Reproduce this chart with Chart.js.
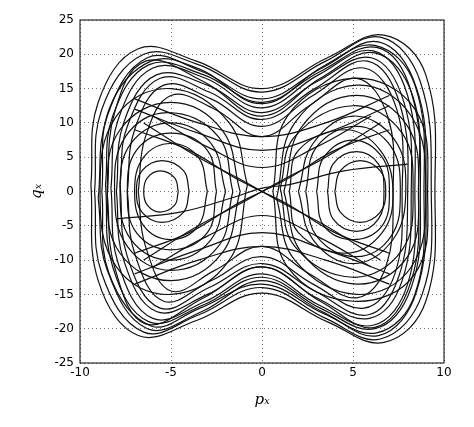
<!DOCTYPE html>
<html>
<head>
<meta charset="utf-8">
<script src="https://cdn.jsdelivr.net/npm/chart.js@4"></script>
<style>
  html, body { margin: 0; padding: 0; background: #fff; }
  #wrap { width: 474px; height: 427px; }
</style>
</head>
<body>
<div id="wrap"><canvas id="phase"></canvas></div>
<script>
// tick values
const xTicks = [-10, -5, 0, 5, 10];
const yTicks = [-25, -20, -15, -10, -5, 0, 5, 10, 15, 20, 25];

// big loops around both lobes, points [p, q]
const outerLoops = [
  [[-9.2,0],[-8.8,12],[-6.5,20],[-3.5,18.5],[0,14.5],[3.5,19],[6.5,22.5],[8.7,16],[9.3,0],[8.8,-15],[6.5,-21.5],[3.5,-18.5],[0,-14],[-3.5,-18],[-6.5,-20.5],[-8.8,-12]],
  [[-8.6,1],[-8.2,11],[-6.2,18.5],[-3.2,17],[0,13],[3.2,17.5],[6.3,21],[8.2,14.5],[8.7,-1],[8.2,-14],[6.2,-20],[3.2,-17],[0,-12.5],[-3.2,-16.5],[-6.2,-19],[-8.2,-11]],
  [[-8,0],[-7.6,10],[-5.8,17],[-3,15.5],[0,11.5],[3,16],[6,19.5],[7.8,13],[8.2,0],[7.7,-13],[5.9,-18.5],[3,-15.5],[0,-11],[-3,-15],[-5.8,-17.5],[-7.6,-10]],
  [[-9,-1],[-8.5,11],[-6.3,19.5],[-3.3,17.5],[0,13.5],[3.3,18],[6.4,21.8],[8.5,15],[9,1],[8.5,-14.5],[6.4,-21],[3.3,-17.5],[0,-13],[-3.3,-17.5],[-6.3,-20],[-8.5,-11.5]],
  [[-7.4,0],[-7,9],[-5.4,15.5],[-2.8,13.5],[0,9.5],[2.8,14],[5.6,18],[7.4,12],[7.7,0],[7.3,-12],[5.6,-17],[2.8,-13.5],[0,-9.5],[-2.8,-13],[-5.4,-16],[-7,-9]],
  [[-8.3,0.5],[-7.9,10.5],[-6,18],[-3.1,16.5],[0,12.2],[3.1,17],[6.1,20.5],[8,14],[8.4,0],[8,-13.5],[6.1,-19.5],[3.1,-16.5],[0,-12],[-3.1,-16],[-6,-18.5],[-7.9,-10.5]],
  [[-6.8,0],[-6.4,8],[-5,14],[-2.6,12],[0,8],[2.6,12.5],[5.2,16.5],[6.9,11],[7.2,0],[6.8,-11],[5.2,-15.5],[2.6,-12],[0,-8],[-2.6,-11.5],[-5,-14.5],[-6.4,-8]],
  [[-9.4,1],[-9,13],[-6.8,20.8],[-3.6,19],[0,15],[3.6,19.5],[6.7,22.8],[9,17],[9.5,0],[9,-16],[6.7,-22],[3.6,-19],[0,-14.8],[-3.6,-18.8],[-6.8,-21],[-9,-13]],
  [[-8.8,0],[-8.4,12],[-6.1,19],[-3.4,17.8],[0,12.8],[3.4,18.3],[6.2,21.3],[8.4,15.5],[8.9,0],[8.4,-15],[6.3,-20.6],[3.4,-17.8],[0,-13.5],[-3.4,-17],[-6.1,-19.6],[-8.4,-12]],
  [[-7.8,1],[-7.4,9.5],[-5.6,16.5],[-2.9,14.5],[0,10.5],[2.9,15],[5.8,19],[7.6,12.5],[8,-1],[7.5,-12.5],[5.8,-18],[2.9,-14.5],[0,-10.5],[-2.9,-14],[-5.6,-17],[-7.4,-9.5]],
  [[-8.5,-0.5],[-8.1,11.5],[-6.4,19],[-3.2,16],[0,11],[3.2,16.5],[6.2,20.2],[8.3,13.8],[8.6,0.5],[8.2,-13],[6.2,-19.8],[3.2,-16],[0,-11],[-3.2,-15.5],[-6.4,-19.3],[-8.1,-11]]
];

const leftLobes = [
  [[-2,0],[-2.8,7],[-5,10],[-7.2,7],[-7.8,0],[-7.2,-7],[-5,-10],[-2.8,-7]],
  [[-3,0],[-3.5,5],[-5,7],[-6.5,5],[-7,0],[-6.5,-5],[-5,-7],[-3.5,-5]],
  [[-1.2,0],[-2.2,9],[-5,13],[-7.8,9],[-8.5,0],[-7.8,-9],[-5,-13],[-2.2,-9]],
  [[-4,0],[-4.3,3],[-5.5,4.5],[-6.6,3],[-6.9,0],[-6.6,-3],[-5.5,-4.5],[-4.3,-3]],
  [[-0.8,1],[-1.8,10],[-5,15],[-8,11],[-8.9,0],[-8,-11],[-5,-15],[-1.8,-10]],
  [[-1.6,0],[-2.4,8],[-5.2,11.5],[-7.5,8],[-8.1,0],[-7.4,-8],[-5,-11.5],[-2.4,-8]],
  [[-2.5,0],[-3,6],[-5,8.5],[-6.9,6],[-7.4,0],[-6.9,-6],[-5,-8.5],[-3,-6]],
  [[-4.6,0],[-4.8,2],[-5.6,3],[-6.3,2],[-6.5,0],[-6.3,-2],[-5.6,-3],[-4.8,-2]]
];

const rightLobes = [
  [[2,0],[2.8,7],[5,11],[7.3,7.5],[7.9,0],[7.2,-7],[5,-10.5],[2.8,-7]],
  [[3,0],[3.4,5],[5,7.5],[6.6,5],[7,0],[6.6,-5],[5,-7],[3.4,-5]],
  [[1.2,0],[2.2,9.5],[5.2,14],[8,9.5],[8.6,0],[8,-9.5],[5.2,-13.5],[2.2,-9]],
  [[4,0],[4.3,3],[5.4,4.5],[6.5,3],[6.8,0],[6.5,-3],[5.4,-4.5],[4.3,-3]],
  [[0.8,-1],[1.8,10],[5.2,15.5],[8.2,11],[9,0],[8.2,-11],[5.2,-15],[1.8,-10]],
  [[1.5,0],[2,6],[4.6,9],[6.5,6],[7.2,0],[6.6,-6],[4.6,-9],[2,-6]],
  [[1,0.5],[1.8,8],[5,12.5],[7.7,8.5],[8.3,0],[7.7,-8.5],[5,-12.5],[1.8,-8]],
  [[2.4,0],[3,6.5],[5.2,9.5],[7.1,6.5],[7.6,0],[7.1,-6.5],[5.2,-9.5],[3,-6.5]],
  [[3.6,0],[3.9,4],[5.2,5.8],[6.4,4],[6.7,0],[6.4,-4],[5.2,-5.8],[3.9,-4]],
  [[0.6,0],[1.4,11],[5,16.5],[8.4,12],[9.1,0],[8.4,-12],[5,-16],[1.4,-11]]
];

// open strands that cross the middle
const crossings = [
  [[-7,-9],[-4,-6],[-1.5,-2],[0,0],[1.5,2],[4,6],[7,9]],
  [[-7,9],[-4,6],[-1.5,2],[0,0],[1.5,-2],[4,-6],[7,-9]],
  [[-6,11],[-3,6.5],[0,3.5],[3,6.5],[6,11]],
  [[-6,-11],[-3,-6.5],[0,-3.5],[3,-6.5],[6,-11]],
  [[-7,12],[-3.5,8.5],[0,6],[3.5,8.5],[7,12.5]],
  [[-7,-12],[-3.5,-8.5],[0,-6],[3.5,-8.5],[7,-12]],
  [[-8,-4],[-4.5,-3],[-1.5,-0.8],[0,0.5],[1.5,1],[4.5,3],[8,4]],
  [[-6.5,10],[-3.5,5],[-1,1.5],[1,-1.5],[3.5,-5],[6.5,-10]],
  [[-6.5,-10],[-3.5,-5],[-1,-1.5],[1,1.5],[3.5,5],[6.5,10]],
  [[-7,13.5],[-3.5,10],[0,8],[3.5,10],[7,14]],
  [[-7,-13.5],[-3.5,-10],[0,-8],[3.5,-10],[7,-13.5]]
];

const closed = [...outerLoops, ...leftLobes, ...rightLobes].map(c => [...c, c[0]]);
const curves = [...closed, ...crossings];

const datasets = curves.map(c => ({
  data: c.map(([x, y]) => ({ x, y })),
  showLine: true,
  borderColor: '#111',
  borderWidth: 1.2,
  pointRadius: 0,
  tension: 0.4,
  fill: false
}));

const frame = {
  id: 'frame',
  afterDraw(chart) {
    const { ctx, chartArea: a } = chart;
    ctx.save();
    ctx.strokeStyle = '#000';
    ctx.lineWidth = 1;
    ctx.strokeRect(a.left, a.top, a.right - a.left, a.bottom - a.top);
    ctx.restore();
  }
};

const tickFont = { family: 'DejaVu Sans', size: 12 };
const titleFont = { family: 'DejaVu Serif', size: 15, style: 'italic' };

new Chart(document.getElementById('phase'), {
  type: 'scatter',
  data: { datasets },
  options: {
    responsive: true,
    maintainAspectRatio: false,
    animation: false,
    layout: { padding: { top: 20, right: 30, left: 26, bottom: 14 } },
    plugins: { legend: { display: false }, tooltip: { enabled: false } },
    scales: {
      x: {
        min: -10, max: 10,
        afterBuildTicks: s => { s.ticks = xTicks.map(v => ({ value: v })); },
        ticks: { color: '#000', font: tickFont },
        grid: { color: '#777', drawTicks: false },
        border: { display: false, dash: [1, 3] },
        title: { display: true, text: 'pₓ', color: '#000', font: titleFont, padding: 4 },
        afterFit: s => { s.height = 50; }
      },
      y: {
        min: -25, max: 25,
        afterBuildTicks: s => { s.ticks = yTicks.map(v => ({ value: v })); },
        ticks: { color: '#000', font: tickFont, padding: 6 },
        grid: { color: '#777', drawTicks: false },
        border: { display: false, dash: [1, 3] },
        title: { display: true, text: 'qₓ', color: '#000', font: titleFont, padding: 2 },
        afterFit: s => { s.width = 54; }
      }
    }
  },
  plugins: [frame]
});
</script>
</body>
</html>
